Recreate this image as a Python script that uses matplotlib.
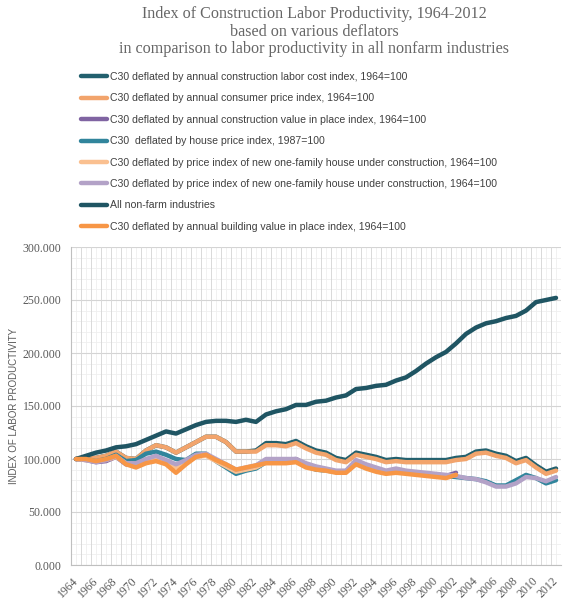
import matplotlib
matplotlib.use("Agg")
import matplotlib.pyplot as plt
import numpy as np

years = list(range(1964, 2013))

# C30 deflated by annual construction labor cost index
labor_cost = [100, 101, 101, 103, 107, 101, 100, 108, 113, 111,
              106, 111, 116, 121, 121, 116, 107, 107, 108, 115,
              115, 114, 117, 112, 108, 106, 101, 99, 106, 104,
              102, 99, 100, 99, 99, 99, 99, 99, 101, 102,
              107, 108, 105, 103, 98, 101, 94, 88, 91]
# C30 deflated by annual consumer price index
cpi = [100, 101, 101, 103, 107, 101, 100, 108, 113, 111,
       106, 111, 116, 121, 121, 116, 107, 107, 107, 113,
       113, 112, 115, 110, 106, 104, 99, 97, 104, 102,
       100, 97, 98, 97, 97, 97, 97, 97, 99, 100,
       105, 106, 103, 101, 96, 99, 92, 86, 89]
# C30 deflated by annual construction value in place index (ends 2002)
constr_value = [100, 99, 97, 98, 102, 95, 94, 99, 102, 98,
                93, 98, 103, 104, 99, 94, 89, 91, 93, 99,
                99, 99, 100, 95, 92, 90, 88, 88, 98, 94,
                91, 88, 90, 88, 87, 86, 85, 84, 87] + [np.nan] * 10
# C30 deflated by house price index
house_price = [100, 100, 98, 100, 104, 98, 99, 105, 107, 104,
               100, 99, 105, 105, 98, 92, 86, 89, 91, 97,
               97, 97, 98, 93, 90, 89, 88, 88, 97, 93,
               89, 87, 89, 88, 87, 86, 85, 84, 83, 82,
               81, 79, 75, 75, 80, 85, 82, 77, 80]
# C30 deflated by price index of new one-family house (first)
new_house_a = [100, 99, 98, 99, 102, 96, 95, 98, 100, 97,
               92, 97, 102, 103, 98, 93, 88, 90, 92, 97,
               97, 97, 98, 93, 91, 89, 88, 88, 96, 92,
               89, 87, 88, 87, 86, 85, 84, 83, 85] + [np.nan] * 10
# C30 deflated by price index of new one-family house (second)
new_house_b = [100, 99, 97, 99, 103, 96, 96, 100, 103, 99,
               95, 99, 104, 105, 100, 95, 90, 92, 94, 100,
               100, 100, 100, 96, 93, 91, 89, 89, 99, 95,
               92, 89, 91, 89, 88, 87, 86, 85, 84, 82,
               81, 78, 74, 74, 77, 83, 82, 79, 83]
# All non-farm industries
nonfarm = [100, 103, 106, 108, 111, 112, 114, 118, 122, 126,
           124, 128, 132, 135, 136, 136, 135, 137, 135, 142,
           145, 147, 151, 151, 154, 155, 158, 160, 166, 167,
           169, 170, 174, 177, 183, 190, 196, 201, 209, 218,
           224, 228, 230, 233, 235, 240, 248, 250, 252]
# C30 deflated by annual building value in place index (ends 2002)
building_value = [100, 100, 98, 100, 103, 95, 92, 96, 98, 95,
                  87, 95, 102, 104, 99, 95, 90, 92, 94, 96,
                  96, 96, 97, 92, 90, 89, 87, 87, 95, 91,
                  88, 86, 87, 86, 85, 84, 83, 82, 85] + [np.nan] * 10

labels = [
    "C30 deflated by annual construction labor cost index, 1964=100",
    "C30 deflated by annual consumer price index, 1964=100",
    "C30 deflated by annual construction value in place index, 1964=100",
    "C30  deflated by house price index, 1987=100",
    "C30 deflated by price index of new one-family house under construction, 1964=100",
    "C30 deflated by price index of new one-family house under construction, 1964=100",
    "All non-farm industries",
    "C30 deflated by annual building value in place index, 1964=100",
]
series = [labor_cost, cpi, constr_value, house_price,
          new_house_a, new_house_b, nonfarm, building_value]
colors = ["#22606e", "#f2a46c", "#8064a2", "#31859c",
          "#fac090", "#b3a2c7", "#1f5563", "#f79646"]

grey = "#595959"
serif = ["Liberation Serif", "DejaVu Serif"]
sans = ["Liberation Sans", "DejaVu Sans"]

fig = plt.figure(figsize=(5.76, 6.05), dpi=100)
ax = fig.add_axes([71/576, 1 - 565/605, 490/576, 318/605])

lines = []
for i, (vals, col, lab) in enumerate(zip(series, colors, labels)):
    ln, = ax.plot(years, vals, color=col, lw=3.2, label=lab,
                  solid_capstyle="round", solid_joinstyle="round", zorder=3 + i)
    lines.append(ln)

ax.set_xlim(1963.5, 2012.5)
ax.set_ylim(0, 300)
ax.set_yticks(np.arange(0, 301, 50))
ax.set_yticks(np.arange(0, 301, 10), minor=True)
ax.set_yticklabels([f"{v:.3f}" for v in np.arange(0, 301, 50)])
ax.set_xticks(np.arange(1964, 2013, 2))
ax.set_xticks(np.arange(1963.5, 2013, 1), minor=True)
ax.set_xticklabels([str(y) for y in range(1964, 2013, 2)],
                   rotation=45, ha="right", va="center", rotation_mode="anchor")

for lbl in ax.get_xticklabels() + ax.get_yticklabels():
    lbl.set_family(serif)
    lbl.set_fontsize(8.5)
    lbl.set_color(grey)

ax.tick_params(axis="both", which="both", length=0)
ax.tick_params(axis="x", pad=10)
ax.tick_params(axis="y", pad=7)

# grid: years as category boundaries, in-between lines fainter
for xb in np.arange(1963.5, 2013, 1):
    ax.axvline(xb, color="#d9d9d9", lw=0.7, zorder=1)
for xb in np.arange(1964, 2013, 1):
    ax.axvline(xb, color="#efefef", lw=0.6, zorder=0.5)
ax.grid(axis="y", which="major", color="#d4d4d4", lw=0.8, zorder=1)
ax.grid(axis="y", which="minor", color="#efefef", lw=0.6, zorder=0.5)
ax.set_axisbelow(True)

for s in ["top", "right"]:
    ax.spines[s].set_visible(False)
ax.spines["left"].set_color("#bfbfbf")
ax.spines["bottom"].set_color("#bfbfbf")

fig.text(14/576, 1 - 406/605, "INDEX OF LABOR PRODUCTIVITY", rotation=90,
         ha="center", va="center", fontsize=7, color=grey, family=sans)

title_lines = ["Index of Construction Labor Productivity, 1964-2012",
               "based on various deflators",
               "in comparison to labor productivity in all nonfarm industries"]
for k, t in enumerate(title_lines):
    fig.text(314/576, 1 - (14 + 17.7*k)/605, t, ha="center", va="center",
             fontsize=11.6, color="#666666", family=serif)

leg = fig.legend(handles=lines, labels=labels, loc="upper left",
                 bbox_to_anchor=(81/576, 1 - 72/605), frameon=False,
                 prop={"family": sans, "size": 7.6}, handlelength=2.5,
                 handletextpad=0.2, labelspacing=1.08, borderaxespad=0,
                 borderpad=0)
for t in leg.get_texts():
    t.set_color("#404040")
for h in leg.legend_handles:
    h.set_linewidth(3.2)

fig.savefig("out.png", dpi=100)
